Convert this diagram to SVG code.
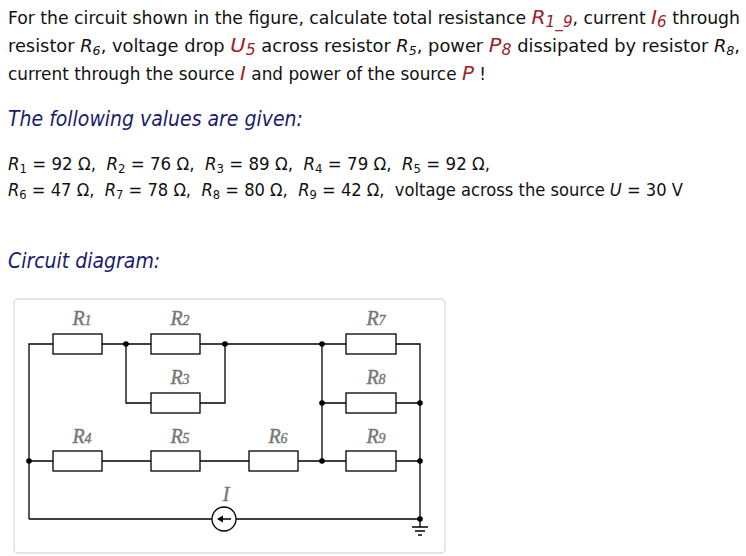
<svg xmlns="http://www.w3.org/2000/svg" width="746" height="556" viewBox="0 0 746 556">
<style>
.t{font-family:"DejaVu Sans Condensed","DejaVu Sans",sans-serif;font-size:17px;fill:#111;white-space:pre}
.v{font-style:italic;fill:#a0202a;font-size:20px}
.i{font-style:italic}
.h{font-family:"DejaVu Sans Condensed","DejaVu Sans",sans-serif;font-style:italic;font-size:21px;fill:#1a1a6e}
.w{fill:none;stroke:#000;stroke-width:1.3}
.r{fill:#fff;stroke:#000;stroke-width:1.3}
.d{fill:#000}
.l{font-family:"Liberation Serif",serif;font-style:italic;font-size:20px;fill:#777;stroke:#777;stroke-width:0.4;text-anchor:middle}
.s{font-size:14px}
</style>
<text class="t" x="8" y="24" textLength="732" lengthAdjust="spacingAndGlyphs">For the circuit shown in the figure, calculate total resistance <tspan class="v">R<tspan dy="3" font-size="15">1_9</tspan></tspan><tspan dy="-3">, current </tspan><tspan class="v">I<tspan dy="3" font-size="15">6</tspan></tspan><tspan dy="-3"> through</tspan></text>
<text class="t" x="8" y="52" textLength="732" lengthAdjust="spacingAndGlyphs">resistor <tspan class="i">R<tspan dy="3" font-size="12">6</tspan></tspan><tspan dy="-3">, voltage drop </tspan><tspan class="v">U<tspan dy="3" font-size="15">5</tspan></tspan><tspan dy="-3"> across resistor </tspan><tspan class="i">R<tspan dy="3" font-size="12">5</tspan></tspan><tspan dy="-3">, power </tspan><tspan class="v">P<tspan dy="3" font-size="15">8</tspan></tspan><tspan dy="-3"> dissipated by resistor </tspan><tspan class="i">R<tspan dy="3" font-size="12">8</tspan></tspan><tspan dy="-3">,</tspan></text>
<text class="t" x="8" y="80" textLength="478" lengthAdjust="spacingAndGlyphs">current through the source <tspan class="v">I</tspan> and power of the source <tspan class="v">P</tspan> !</text>
<text class="h" x="8" y="126">The following values are given:</text>
<text class="t" x="8" y="170" textLength="482" lengthAdjust="spacingAndGlyphs"><tspan class="i">R</tspan><tspan dy="3" font-size="12">1</tspan><tspan dy="-3"> = 92 Ω,  </tspan><tspan class="i">R</tspan><tspan dy="3" font-size="12">2</tspan><tspan dy="-3"> = 76 Ω,  </tspan><tspan class="i">R</tspan><tspan dy="3" font-size="12">3</tspan><tspan dy="-3"> = 89 Ω,  </tspan><tspan class="i">R</tspan><tspan dy="3" font-size="12">4</tspan><tspan dy="-3"> = 79 Ω,  </tspan><tspan class="i">R</tspan><tspan dy="3" font-size="12">5</tspan><tspan dy="-3"> = 92 Ω,</tspan></text>
<text class="t" x="8" y="196" textLength="675" lengthAdjust="spacingAndGlyphs"><tspan class="i">R</tspan><tspan dy="3" font-size="12">6</tspan><tspan dy="-3"> = 47 Ω,  </tspan><tspan class="i">R</tspan><tspan dy="3" font-size="12">7</tspan><tspan dy="-3"> = 78 Ω,  </tspan><tspan class="i">R</tspan><tspan dy="3" font-size="12">8</tspan><tspan dy="-3"> = 80 Ω,  </tspan><tspan class="i">R</tspan><tspan dy="3" font-size="12">9</tspan><tspan dy="-3"> = 42 Ω,  voltage across the source </tspan><tspan class="i">U</tspan> = 30 V</text>
<text class="h" x="8" y="268">Circuit diagram:</text>
<rect x="14" y="299" width="431" height="254" rx="4" fill="#fff" stroke="#ddd" stroke-width="1.3"/>
<g id="connectors">
<path class="w" d="M29,519 V344 H53 M102,344 H151 M200,344 H346 M396,344 H420 V519 H236 M212,519 H29"/>
<path class="w" d="M126,344 V403 H151 M200,403 H225 V344"/>
<path class="w" d="M29,461 H53 M102,461 H151 M200,461 H249 M298,461 H346 M396,461 H420"/>
<path class="w" d="M322,344 V461 M322,403 H346 M396,403 H420"/>
<path class="w" d="M420,519 V527 M412,527 H428 M415,531 H425 M418,535 H422"/>
<circle class="d" cx="126" cy="344" r="2.8"/><circle class="d" cx="225" cy="344" r="2.8"/><circle class="d" cx="322" cy="344" r="2.8"/>
<circle class="d" cx="322" cy="403" r="2.8"/><circle class="d" cx="420" cy="403" r="2.8"/>
<circle class="d" cx="29" cy="461" r="2.8"/><circle class="d" cx="322" cy="461" r="2.8"/><circle class="d" cx="420" cy="461" r="2.8"/>
<circle class="d" cx="420" cy="519" r="2.8"/>
</g>
<g id="R1"><rect class="r" x="53" y="334" width="49" height="20"/><text class="l" x="82" y="325">R<tspan class="s">1</tspan></text></g>
<g id="R2"><rect class="r" x="151" y="334" width="49" height="20"/><text class="l" x="180" y="325">R<tspan class="s">2</tspan></text></g>
<g id="R3"><rect class="r" x="151" y="393" width="49" height="20"/><text class="l" x="180" y="384">R<tspan class="s">3</tspan></text></g>
<g id="R4"><rect class="r" x="53" y="451" width="49" height="20"/><text class="l" x="82" y="443">R<tspan class="s">4</tspan></text></g>
<g id="R5"><rect class="r" x="151" y="451" width="49" height="20"/><text class="l" x="180" y="443">R<tspan class="s">5</tspan></text></g>
<g id="R6"><rect class="r" x="249" y="451" width="49" height="20"/><text class="l" x="278" y="443">R<tspan class="s">6</tspan></text></g>
<g id="R7"><rect class="r" x="346" y="334" width="50" height="20"/><text class="l" x="376" y="325">R<tspan class="s">7</tspan></text></g>
<g id="R8"><rect class="r" x="346" y="393" width="50" height="20"/><text class="l" x="376" y="384">R<tspan class="s">8</tspan></text></g>
<g id="R9"><rect class="r" x="346" y="451" width="50" height="20"/><text class="l" x="376" y="443">R<tspan class="s">9</tspan></text></g>
<g id="source"><circle cx="224" cy="519" r="12" fill="#fff" stroke="#000" stroke-width="1.3"/><path d="M231,519 H222" stroke="#000" stroke-width="1.5"/><path d="M217,519 L223,515.5 V522.5 Z" fill="#000"/><text class="l" x="226" y="501">I</text></g>
</svg>
